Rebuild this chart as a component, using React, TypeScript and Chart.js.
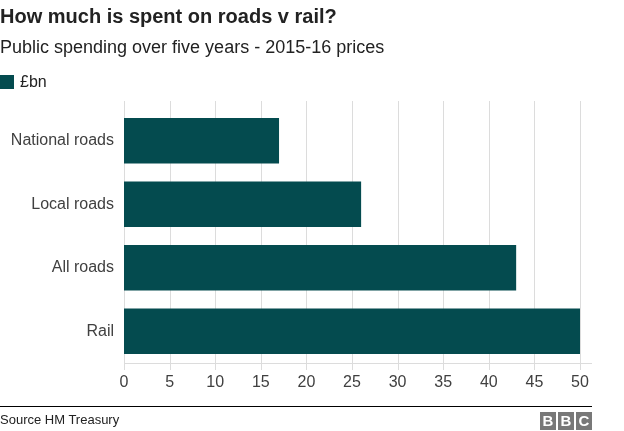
import React, { useEffect, useRef } from "react";
import { Chart, registerables } from "chart.js";

Chart.register(...registerables);

const categories = ["National roads", "Local roads", "All roads", "Rail"];
const spending = [17, 26, 43, 50];
const seriesLabel = "£bn";
const xTicks = [0, 5, 10, 15, 20, 25, 30, 35, 40, 45, 50];

const BAR = "#044b4f";
const GRID = "#dcdcdc";
const FONT = '"Liberation Sans", Arial, Helvetica, sans-serif';

const gridPlugin = {
  id: "bbcGrid",
  beforeDatasetsDraw(chart: any) {
    const { ctx, chartArea, scales } = chart;
    const x = scales.x;
    ctx.save();
    ctx.strokeStyle = GRID;
    ctx.lineWidth = 1;
    xTicks.forEach((v) => {
      const px = Math.round(x.getPixelForValue(v)) + 0.5;
      ctx.beginPath();
      ctx.moveTo(px, chartArea.top - 8);
      ctx.lineTo(px, chartArea.bottom + 7);
      ctx.stroke();
    });
    ctx.beginPath();
    const py = Math.round(chartArea.bottom) + 0.5;
    ctx.moveTo(chartArea.left, py);
    ctx.lineTo(chartArea.right + 12, py);
    ctx.stroke();
    ctx.restore();
  },
};

export default function App() {
  const ref = useRef<HTMLCanvasElement | null>(null);

  useEffect(() => {
    if (!ref.current) return;
    const chart = new Chart(ref.current, {
      type: "bar",
      data: {
        labels: categories,
        datasets: [
          {
            label: seriesLabel,
            data: spending,
            backgroundColor: BAR,
            borderWidth: 0,
            categoryPercentage: 1,
            barPercentage: 0.715,
          },
        ],
      },
      options: {
        indexAxis: "y",
        animation: false,
        responsive: false,
        maintainAspectRatio: false,
        layout: { padding: { top: 109, right: 44, bottom: 0, left: 0 } },
        plugins: {
          legend: { display: false },
          tooltip: { enabled: false },
          title: { display: false },
        },
        scales: {
          x: {
            min: 0,
            max: 50,
            afterFit: (s: any) => {
              s.height = 68;
            },
            afterBuildTicks: (s: any) => {
              s.ticks = xTicks.map((v) => ({ value: v }));
            },
            grid: { display: false, drawTicks: false, tickLength: 0 },
            border: { display: false },
            ticks: {
              padding: 10,
              color: "#404040",
              font: { family: FONT, size: 16 },
            },
          },
          y: {
            afterFit: (s: any) => {
              s.width = 124;
            },
            grid: { display: false, drawTicks: false, tickLength: 0 },
            border: { display: false },
            ticks: {
              padding: 10,
              color: "#404040",
              font: { family: FONT, size: 16 },
            },
          },
        },
      },
      plugins: [gridPlugin],
    });
    return () => chart.destroy();
  }, []);

  const text: React.CSSProperties = { position: "absolute", fontFamily: FONT, whiteSpace: "nowrap" };
  const box: React.CSSProperties = {
    position: "absolute",
    top: 412,
    width: 16,
    height: 18,
    background: "#787878",
    color: "#fff",
    fontFamily: FONT,
    fontWeight: "bold",
    fontSize: 15,
    lineHeight: "18px",
    textAlign: "center",
  };

  return (
    <div style={{ position: "absolute", left: 0, top: 0, width: 624, height: 431, background: "#fff", overflow: "hidden" }}>
      <canvas ref={ref} width={624} height={431} style={{ position: "absolute", left: 0, top: 0, width: 624, height: 431 }} />
      <div style={{ ...text, left: 0, top: 4, fontSize: 20, fontWeight: "bold", color: "#222", lineHeight: "24px" }}>
        How much is spent on roads v rail?
      </div>
      <div style={{ ...text, left: 0, top: 36, fontSize: 18, color: "#222", lineHeight: "22px" }}>
        Public spending over five years - 2015-16 prices
      </div>
      <div style={{ position: "absolute", left: 0, top: 75, width: 14, height: 14, background: BAR }} />
      <div style={{ ...text, left: 20, top: 72, fontSize: 16, color: "#222", lineHeight: "20px" }}>{seriesLabel}</div>
      <div style={{ position: "absolute", left: 0, top: 406, width: 592, height: 1, background: "#000" }} />
      <div style={{ ...text, left: 0, top: 411, fontSize: 13, color: "#222", lineHeight: "17px" }}>Source HM Treasury</div>
      <div style={{ ...box, left: 540 }}>B</div>
      <div style={{ ...box, left: 558 }}>B</div>
      <div style={{ ...box, left: 576 }}>C</div>
    </div>
  );
}
